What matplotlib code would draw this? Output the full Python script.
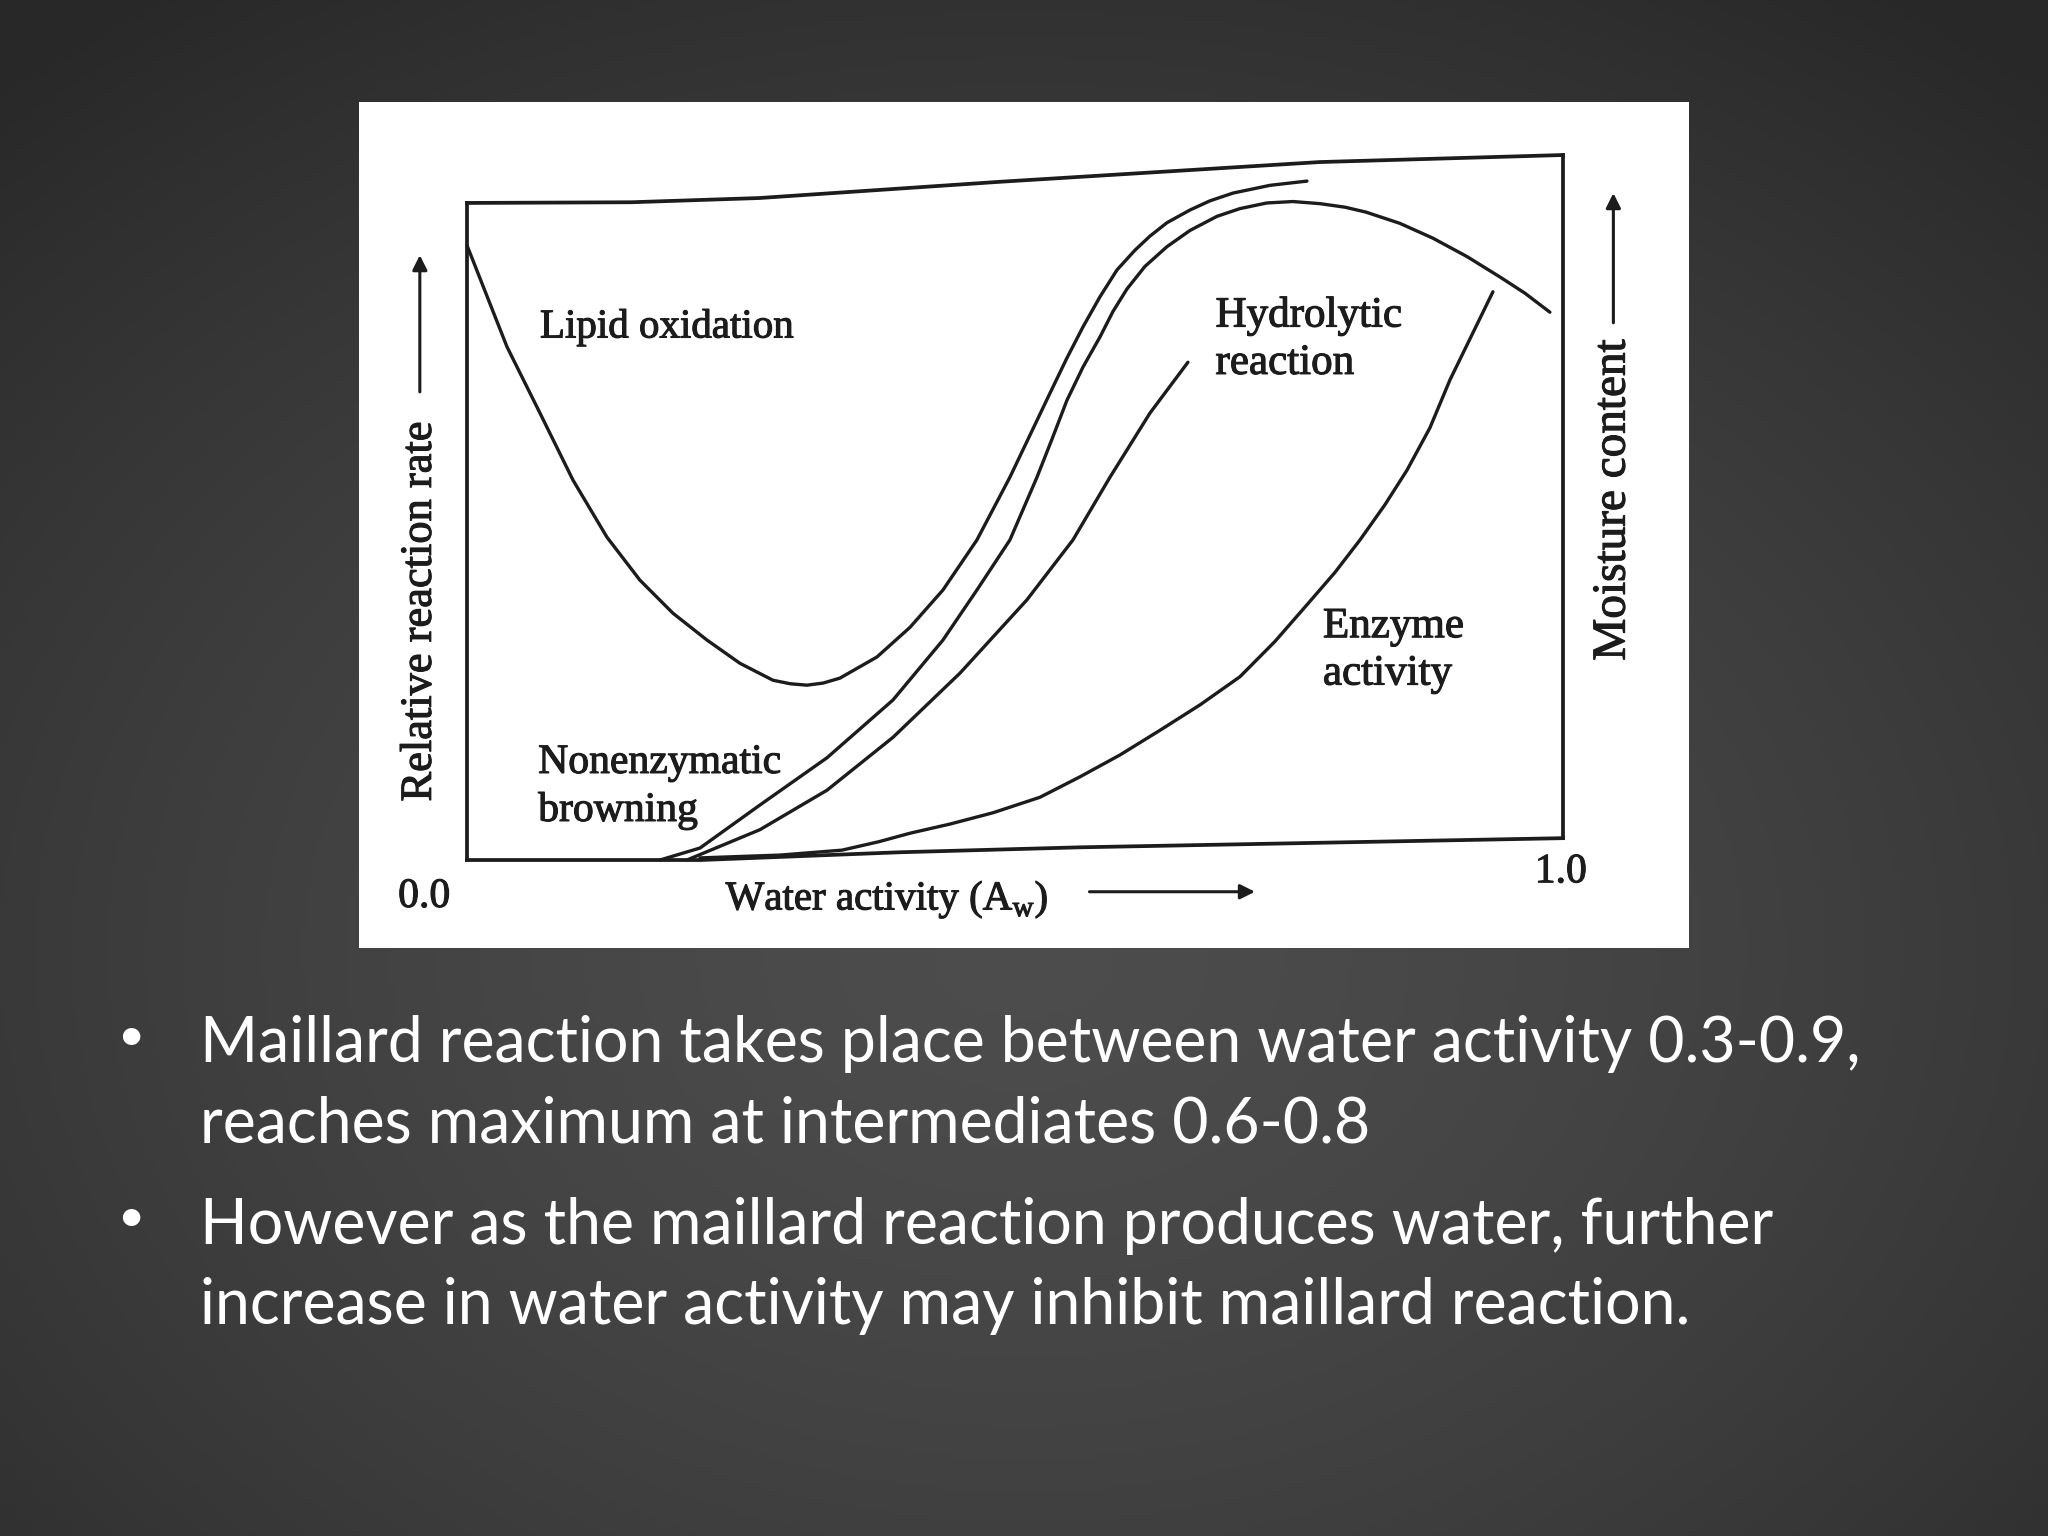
import numpy as np
import matplotlib.pyplot as plt
import matplotlib.patheffects as pe

# ---- data: water activity (0..1) vs relative rate ----
frame_top_aw = [0, 0.150, 0.267, 0.486, 0.632, 0.778, 1.0]
frame_top_r = [0.932, 0.933, 0.939, 0.962, 0.976, 0.990, 1.0]
frame_bot_aw = [0, 0.213, 0.395, 0.559, 1.0]
frame_bot_r = [0, 0, 0.011, 0.018, 0.031]

lipid_aw = [0, 0.0365, 0.0666, 0.0967, 0.1277, 0.1578, 0.1880, 0.2190, 0.2491, 0.2792,
            0.2950, 0.3102, 0.3250, 0.3403, 0.3741, 0.4042, 0.4343, 0.4653, 0.4954,
            0.5319, 0.5474, 0.5620, 0.5776, 0.5931, 0.6095, 0.6232, 0.6387, 0.6597,
            0.6779, 0.6989, 0.7327, 0.7664]
lipid_r = [0.872, 0.728, 0.634, 0.539, 0.458, 0.397, 0.350, 0.312, 0.279, 0.255,
           0.250, 0.248, 0.251, 0.258, 0.288, 0.330, 0.383, 0.454, 0.543,
           0.662, 0.712, 0.756, 0.799, 0.837, 0.865, 0.885, 0.904, 0.922,
           0.935, 0.946, 0.957, 0.963]

browning_aw = [0.1761, 0.2126, 0.2673, 0.3285, 0.3887, 0.4343, 0.4653, 0.4954, 0.5201, 0.5338,
               0.5474, 0.5620, 0.5776, 0.5894, 0.6022, 0.6186, 0.6387, 0.6597, 0.6843, 0.7053,
               0.7299, 0.7536, 0.7783, 0.8011, 0.8203, 0.8513, 0.8814, 0.9124, 0.9425, 0.9653,
               0.9881]
browning_r = [0, 0.017, 0.078, 0.145, 0.227, 0.312, 0.383, 0.454, 0.543, 0.597,
              0.652, 0.699, 0.742, 0.778, 0.810, 0.842, 0.870, 0.893, 0.913, 0.924,
              0.932, 0.934, 0.931, 0.926, 0.919, 0.903, 0.882, 0.856, 0.827, 0.804,
              0.777]

hydro_aw = [0.2007, 0.2673, 0.3285, 0.3887, 0.4498, 0.5109, 0.5529, 0.5867, 0.6232, 0.6578]
hydro_r = [0, 0.043, 0.099, 0.174, 0.265, 0.369, 0.454, 0.543, 0.634, 0.706]

enzyme_aw = [0.2126, 0.2856, 0.3422, 0.3759, 0.4042, 0.4407, 0.4799, 0.5228, 0.5593, 0.5958,
             0.6323, 0.6688, 0.7053, 0.7372, 0.7664, 0.7920, 0.8148, 0.8376, 0.8577,
             0.8786, 0.8969, 0.9361]
enzyme_r = [0.003, 0.007, 0.014, 0.026, 0.038, 0.051, 0.067, 0.089, 0.118, 0.149,
            0.184, 0.220, 0.260, 0.310, 0.362, 0.408, 0.454, 0.504, 0.553,
            0.613, 0.681, 0.806]

bullets = [
    ['Maillard reaction takes place between water activity 0.3-0.9,',
     'reaches maximum at intermediates 0.6-0.8'],
    ['However as the maillard reaction produces water, further',
     'increase in water activity may inhibit maillard reaction.'],
]

ink = '#1c1c1c'
serif = 'Liberation Serif'
heavy = [pe.withStroke(linewidth=0.8, foreground=ink)]

fig = plt.figure(figsize=(20.48, 15.36), dpi=100)

# chalkboard background
bg = fig.add_axes([0, 0, 1, 1])
yy, xx = np.mgrid[0:1:300j, 0:1:400j]
dist = np.sqrt(((xx - 0.5) / 0.75) ** 2 + ((yy - 0.62) / 0.75) ** 2)
shade = 0.30 - 0.14 * np.clip(dist, 0, 1) ** 1.5
bg.imshow(np.dstack([shade] * 3), aspect='auto', extent=[0, 1, 0, 1], origin='upper')
bg.axis('off')

# white picture panel
ax = fig.add_axes([359 / 2048, 1 - 948 / 1536, 1330 / 2048, 846 / 1536])
ax.set_facecolor('white')
ax.set_xlim(-0.0985, 1.115)
ax.set_ylim(-0.1248, 1.0752)
ax.set_xticks([])
ax.set_yticks([])
for s in ax.spines.values():
    s.set_visible(False)

# frame
lw_frame = 2.7
ax.plot(frame_top_aw, frame_top_r, color=ink, lw=lw_frame, solid_joinstyle='round')
ax.plot(frame_bot_aw, frame_bot_r, color=ink, lw=lw_frame, solid_joinstyle='round')
ax.plot([0, 0], [frame_bot_r[0], frame_top_r[0]], color=ink, lw=lw_frame)
ax.plot([1, 1], [frame_bot_r[-1], frame_top_r[-1]], color=ink, lw=lw_frame)

# curves
lw = 2.4
for xs, ys in [(lipid_aw, lipid_r), (browning_aw, browning_r),
               (hydro_aw, hydro_r), (enzyme_aw, enzyme_r)]:
    ax.plot(xs, ys, color=ink, lw=lw, solid_capstyle='round', solid_joinstyle='round')

# labels
fs = 30
kw = dict(family=serif, color=ink, path_effects=heavy)
ax.text(0.0666, 0.755, 'Lipid oxidation', fontsize=29.5, ha='left', va='center', **kw)
ax.text(0.683, 0.738, 'Hydrolytic\nreaction', fontsize=31, ha='left', va='center',
        linespacing=1.3, **kw)
ax.text(0.781, 0.297, 'Enzyme\nactivity', fontsize=31, ha='left', va='center',
        linespacing=1.3, **kw)
ax.text(0.065, 0.104, 'Nonenzymatic\nbrowning', fontsize=fs, ha='left', va='center',
        linespacing=1.3, **kw)
ax.text(-0.039, -0.052, '0.0', fontsize=fs, ha='center', va='center', **kw)
ax.text(0.998, -0.017, '1.0', fontsize=fs, ha='center', va='center', **kw)
ax.text(0.236, -0.057, r'Water activity (A$_\mathregular{w}$)', fontsize=29.5,
        ha='left', va='center', **kw)
ax.text(-0.043, 0.353, 'Relative reaction rate', fontsize=32, ha='center', va='center',
        rotation=90, **kw)
ax.text(1.046, 0.511, 'Moisture content', fontsize=34, ha='center', va='center',
        rotation=90, **kw)

arrow = dict(arrowstyle='-|>', color=ink, lw=2.2, mutation_scale=22, shrinkA=0, shrinkB=0)
ax.annotate('', xy=(0.719, -0.045), xytext=(0.568, -0.045), arrowprops=arrow)
ax.annotate('', xy=(-0.043, 0.858), xytext=(-0.043, 0.664), arrowprops=arrow)
ax.annotate('', xy=(1.046, 0.946), xytext=(1.046, 0.762), arrowprops=arrow)

# bullet text
baselines = [[0.3086, 0.2559], [0.1904, 0.1377]]
for lines, ys in zip(bullets, baselines):
    fig.text(0.064, ys[0] + 0.008, '\u2022', family='Lato', fontsize=34, color='white',
             ha='center', va='baseline')
    for line, y in zip(lines, ys):
        fig.text(0.0977, y, line, family='Lato', fontsize=45, color='white',
                 ha='left', va='baseline')

fig.savefig('out.png', dpi=100)
